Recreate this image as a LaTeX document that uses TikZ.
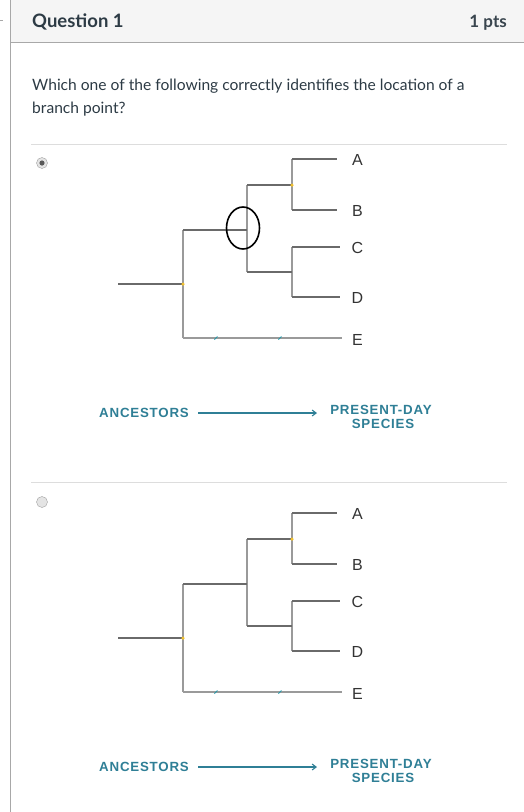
\documentclass[tikz,border=0pt]{standalone}
\usepackage{fontspec}
\setmainfont{Lato}
\newfontfamily\lblfont{Liberation Sans}
\newfontfamily\handfont[LetterSpace=6]{Liberation Sans}
\usetikzlibrary{arrows.meta}
\definecolor{hdrbg}{HTML}{F5F5F5}
\definecolor{hdrline}{HTML}{A8A8A8}
\definecolor{sepline}{HTML}{DDDDDD}
\definecolor{txt}{HTML}{2D3B45}
\definecolor{brlight}{HTML}{9A9A9A}
\definecolor{brdark}{HTML}{6A6A6A}
\definecolor{dotyel}{HTML}{F2C12E}
\definecolor{teal}{HTML}{2F7F96}
\definecolor{radfill}{HTML}{E4E4E4}
\definecolor{radline}{HTML}{A0A0A0}
\tikzset{
  brv/.style={draw=brlight, line width=1.5pt},
  brh/.style={draw=brdark, line width=1.4pt},
  leaflbl/.style={font=\lblfont\fontsize{16}{16}\selectfont, text=black!80, inner sep=0pt},
  ydot/.style={circle, fill=dotyel, inner sep=0pt, minimum size=3.5pt},
  tick/.style={draw=teal!80!cyan, line width=0.9pt},
  hand/.style={font=\handfont\bfseries\fontsize{13.3}{14}\selectfont, text=teal, inner sep=0pt},
  ring/.style={draw=black, line width=1.6pt},
  radio/.style={circle, draw=radline, fill=radfill, minimum size=11pt, inner sep=0pt},
}
\newcommand{\mytree}{%
  \coordinate (r) at (118,284);
  \coordinate (j0) at (183,284);
  \coordinate (t0) at (183,230);
  \coordinate (b0) at (183,338);
  \coordinate (j1) at (247,230);
  \coordinate (t1) at (247,185);
  \coordinate (b1) at (247,272);
  \coordinate (j2) at (292,185);
  \coordinate (t2) at (292,159);
  \coordinate (b2) at (292,210);
  \coordinate (j3) at (292,272);
  \coordinate (t3) at (292,247);
  \coordinate (b3) at (292,297);
  \coordinate (la) at (337,159);
  \coordinate (lb) at (337,210);
  \coordinate (lc) at (340,247);
  \coordinate (ld) at (340,297);
  \coordinate (le) at (342,338);
  \coordinate (k1) at (216,338);
  \coordinate (k2) at (280,338);
  \path[brv] (t0) -- (b0);
  \path[brv] (t1) -- (b1);
  \path[brv] (t2) -- (b2);
  \path[brv] (t3) -- (b3);
  \path[brh] (r) -- (j0);
  \path[brh] (t0) -- (j1);
  \path[brh] (t1) -- (j2);
  \path[brh] (j3) -- (b1);
  \path[brh] (t2) -- (la);
  \path[brh] (b2) -- (lb);
  \path[brh] (t3) -- (lc);
  \path[brh] (b3) -- (ld);
  \path[brv] (b0) -- (le);
  \path[tick] ([xshift=-1.5pt,yshift=-1.5pt]k1) -- ([xshift=1.5pt,yshift=1.5pt]k1);
  \path[tick] ([xshift=-1.5pt,yshift=-1.5pt]k2) -- ([xshift=1.5pt,yshift=1.5pt]k2);
  \node[ydot] (d0) at (j0) {};
  \node[ydot] (d2) at (j2) {};
  \node[leaflbl] (A) at (357.5,160) {A};
  \node[leaflbl] (B) at (357.5,211) {B};
  \node[leaflbl] (C) at (357.5,248) {C};
  \node[leaflbl] (D) at (357.5,298) {D};
  \node[leaflbl] (E) at (357.5,340) {E};
  \node[hand, anchor=west] (anc) at (99,413) {ANCESTORS};
  \node[hand] (pd) at (381,410) {PRESENT-DAY};
  \node[hand] (sp) at (383,424) {SPECIES};
  \coordinate (arrs) at (198,413);
  \coordinate (arre) at (317,413);
  \draw[draw=teal, line width=1.1pt, -{Straight Barb[length=4pt,width=6pt]}] (arrs) -- (arre);
}
\begin{document}
\begin{tikzpicture}[x=1pt,y=-1pt]
\useasboundingbox (0,0) rectangle (524,812);
\fill[white] (0,0) rectangle (524,812);
% header
\fill[hdrbg] (10,0) rectangle (524,42);
\draw[hdrline, line width=1pt] (10,42) -- (524,42);
\draw[hdrline, line width=1pt] (10.5,0) -- (10.5,812);
\draw[hdrline, line width=0.8pt] (0,20) -- (3,20);
\node[anchor=base west, inner sep=0pt, text=txt, font=\bfseries\fontsize{18.5}{20}\selectfont] (q) at (32,27) {Question 1};
\node[anchor=base east, inner sep=0pt, text=txt!85!gray, font=\bfseries\fontsize{17}{18}\selectfont] (pts) at (507,27) {1 pts};
\node[anchor=base west, inner sep=0pt, text=txt, font=\fontsize{15.6}{17}\selectfont] (l1) at (32,90.5) {Which one of the following correctly identifies the location of a};
\node[anchor=base west, inner sep=0pt, text=txt, font=\fontsize{15.6}{17}\selectfont] (l2) at (32,113) {branch point?};
% separators
\draw[sepline, line width=1pt] (31,144.5) -- (507,144.5);
\draw[sepline, line width=1pt] (31,482.5) -- (507,482.5);
% radio buttons
\node[radio] (rb1) at (42,163) {};
\fill[black!65] (rb1.center) circle (2.6pt);
\node[radio] (rb2) at (42,502) {};
% tree 1
\begin{scope}[name prefix=ta-]
\mytree
\draw[ring] (243,228) ellipse (16.5 and 21);
\end{scope}
% tree 2
\begin{scope}[yshift=-354pt, name prefix=tb-]
\mytree
\draw[ring] (352,537) ellipse (20.5 and 48.5);
\end{scope}
\end{tikzpicture}
\end{document}
